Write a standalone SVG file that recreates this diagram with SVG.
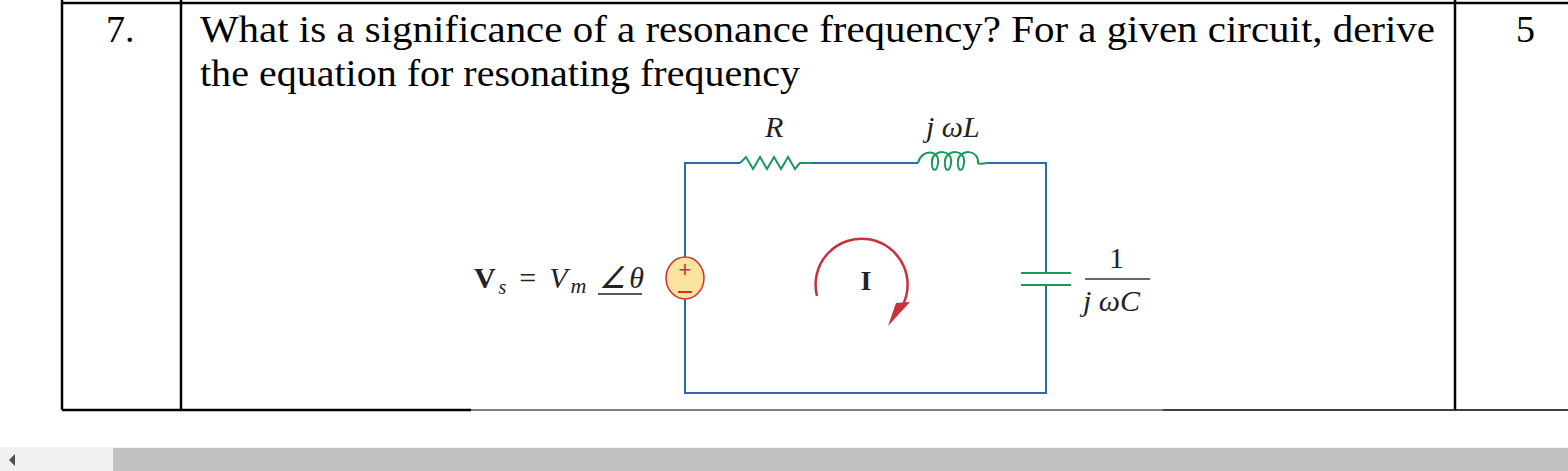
<svg xmlns="http://www.w3.org/2000/svg" width="1568" height="471" viewBox="0 0 1568 471">
<style>
.t{font-family:"Liberation Serif",serif;font-size:38px;fill:#000}
.i{font-family:"Liberation Serif",serif;font-style:italic;font-size:30px;fill:#222}
.r{font-family:"Liberation Serif",serif;font-size:30px;fill:#222}
.w{stroke:#2f6aa8;stroke-width:2;fill:none}
.g{stroke:#1a9a5a;stroke-width:2;fill:none}
</style>
<rect width="1568" height="471" fill="#fff"/>
<g id="table" stroke="#000" stroke-width="2.5" fill="none">
<line x1="62" y1="3" x2="1568" y2="3"/>
<line x1="62" y1="0" x2="62" y2="410"/>
<line x1="181" y1="0" x2="181" y2="410"/>
<line x1="1455" y1="0" x2="1455" y2="410"/>
<line x1="62" y1="410" x2="471" y2="410"/>
<line x1="1163" y1="410" x2="1568" y2="410" stroke-width="1.5"/>
<line x1="471" y1="410" x2="1163" y2="410" stroke-width="1.2"/>
</g>
<g id="texts">
<text class="t" x="106" y="42">7.</text>
<text class="t" x="200" y="42" textLength="1235" lengthAdjust="spacingAndGlyphs">What is a significance of a resonance frequency? For a given circuit, derive</text>
<text class="t" x="200" y="86" textLength="600" lengthAdjust="spacingAndGlyphs">the equation for resonating frequency</text>
<text class="t" x="1516" y="42">5</text>
</g>
<g id="connectors">
<polyline class="w" points="740,163 685,163 685,258"/>
<line class="w" x1="812" y1="163" x2="918" y2="163"/>
<polyline class="w" points="988,163 1046,163 1046,273"/>
<polyline class="w" points="1046,285 1046,393 685,393 685,299"/>
</g>
<g id="resistor"><polyline class="g" points="740,163 746,157 753,169 760,157 767,169 774,157 781,169 788,157 795,169 800,163 812,163"/>
<text class="i" x="765" y="137">R</text></g>
<g id="inductor"><path class="g" d="M918,163 C921,149 940,149 938,163 C937,173 931,172 932,160 C934,149 953,149 951,163 C950,173 944,172 945,160 C947,149 966,149 964,163 C963,173 957,172 958,160 C960,149 979,149 978,163 C979,165 983,163 988,163"/>
<text class="i" x="926" y="137">j ωL</text></g>
<g id="capacitor"><line class="g" x1="1021" y1="273" x2="1071" y2="273"/><line class="g" x1="1021" y1="285" x2="1071" y2="285"/>
<text class="r" x="1109" y="268">1</text><line x1="1085" y1="279" x2="1150" y2="279" stroke="#333" stroke-width="1.5"/>
<text class="i" x="1083" y="311">j ωC</text></g>
<g id="source"><ellipse cx="685" cy="278" rx="19" ry="21" fill="#fbe3a0" stroke="#d43030" stroke-width="1.5"/>
<text x="685" y="277" text-anchor="middle" font-family="Liberation Sans,sans-serif" font-size="22" fill="#d43030">+</text>
<line x1="678" y1="292" x2="692" y2="292" stroke="#d43030" stroke-width="2"/>
<text class="r" x="474" y="288" textLength="170" lengthAdjust="spacing"><tspan font-weight="bold">V</tspan><tspan font-style="italic" font-size="20" dy="6">s</tspan><tspan dy="-6"> = </tspan><tspan font-style="italic">V</tspan><tspan font-style="italic" font-size="22" dy="5">m</tspan><tspan dy="-5" font-style="italic"> ∠θ</tspan></text>
<line x1="598" y1="294" x2="642" y2="294" stroke="#222" stroke-width="1.5"/></g>
<g id="current"><path d="M817,296 A46,46 0 1 1 900,310" stroke="#c8313a" stroke-width="2.5" fill="none"/>
<polygon points="910,302 888,326 896,303" fill="#c8313a"/>
<text x="866" y="290" text-anchor="middle" font-family="Liberation Serif,serif" font-weight="bold" font-size="28" fill="#222">I</text></g>
<g id="scrollbar"><rect x="0" y="447" width="1568" height="24" fill="#f1f1f1"/><rect x="113" y="448" width="1455" height="23" fill="#c1c1c1"/>
<polygon points="9,460 15,454 15,466" fill="#505050"/></g>
</svg>
